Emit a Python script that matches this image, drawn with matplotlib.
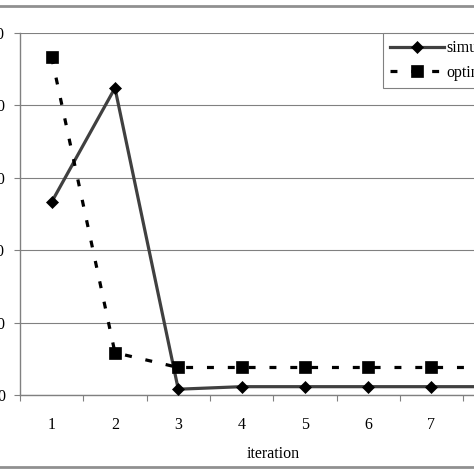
import matplotlib
matplotlib.use("Agg")
import matplotlib.pyplot as plt
from matplotlib.lines import Line2D
from matplotlib.ticker import FixedLocator

iterations = [1, 2, 3, 4, 5, 6, 7, 8]
simulation = [53.3, 84.8, 1.6, 2.3, 2.3, 2.3, 2.3, 2.3]
optimization = [93.3, 11.7, 7.6, 7.6, 7.6, 7.6, 7.6, 7.6]
y_ticks = [0, 20, 40, 60, 80, 100]
series_names = ["simulation", "optimization"]

plt.rcParams['font.family'] = ['Liberation Serif', 'DejaVu Serif']
plt.rcParams['lines.scale_dashes'] = False

W = H = 474
fig = plt.figure(figsize=(4.74, 4.74), dpi=100)
left, right, top, bottom = 20, 526.4, 33, 395
ax = fig.add_axes([left / W, 1 - bottom / H, (right - left) / W, (bottom - top) / H])

ax.plot(iterations, simulation, color='#404040', lw=2.3, marker='D', ms=6,
        mfc='black', mec='black', mew=0.5, label=series_names[0], zorder=3)
ax.plot(iterations, optimization, color='black', lw=2.3, dashes=(5, 10), marker='s', ms=8,
        mfc='black', mec='black', mew=0.5, label=series_names[1], zorder=3)

ax.set_xlim(0.5, 8.5)
ax.set_ylim(0, 100)
ax.set_yticks(y_ticks)
ax.set_xticks(iterations)
ax.xaxis.set_minor_locator(FixedLocator([i + 0.5 for i in range(0, 9)]))
ax.tick_params(axis='x', which='major', length=0, pad=16, labelsize=11.5)
ax.tick_params(axis='x', which='minor', length=4, width=0.8, color='#808080', direction='out')
ax.tick_params(axis='y', length=4.3, width=0.8, color='#808080', pad=6.5, labelsize=11.5)
ax.grid(axis='y', color='#808080', lw=0.8)
ax.set_axisbelow(True)
for s in ['top', 'right']:
    ax.spines[s].set_visible(False)
for s in ['left', 'bottom']:
    ax.spines[s].set_color('#808080')
    ax.spines[s].set_linewidth(1.0)

fig.text(273 / W, 1 - 454 / H, 'iteration', ha='center', va='center', fontsize=11.5)

leg = fig.legend(loc='upper left', bbox_to_anchor=(383 / W, 1 - 33 / H), borderaxespad=0,
                 fancybox=False, edgecolor='#808080', framealpha=1, fontsize=11.5,
                 handlelength=3.4, handletextpad=0.1, labelspacing=0.55, borderpad=0.45)
leg.get_frame().set_linewidth(0.8)

for yy in (6, 467):
    fig.add_artist(Line2D([0, 1], [1 - yy / H] * 2, color='#909090', lw=2.0, transform=fig.transFigure))

fig.savefig('out.png', dpi=100)
